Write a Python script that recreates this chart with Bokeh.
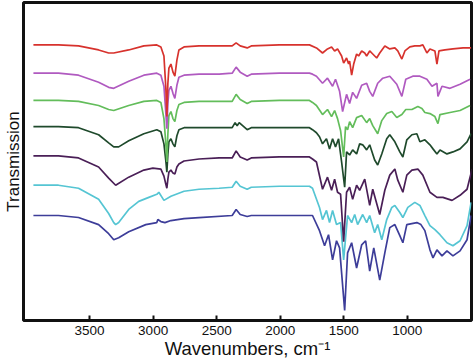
from bokeh.plotting import figure
from bokeh.models import Range1d, FixedTicker
from bokeh.embed import file_html
from bokeh.resources import INLINE

# ---- data: wavenumber (cm^-1) and transmission (arbitrary offset units) ----
red_wn = [3942, 3745, 3587, 3429, 3350, 3310, 3192, 3073, 2971, 2939, 2915, 2900, 2892, 2884, 2876, 2860, 2844, 2829, 2813, 2797, 2757, 2639, 2481, 2378, 2347, 2315, 2260, 2228, 2007, 1849, 1770,
          1715, 1667, 1628, 1596, 1572, 1549, 1517, 1501, 1478, 1462, 1454, 1438, 1422, 1399, 1383, 1359, 1335, 1320, 1296, 1272, 1241, 1217, 1177, 1138, 1098, 1075, 1043, 1019, 980, 941, 901, 878, 846, 822, 783, 767, 751, 704, 641, 561, 498]
red_t = [273, 273, 272, 268, 265, 265, 268, 272, 273, 271, 262, 230, 202, 235, 250, 254, 246, 242, 258, 268, 271, 272, 272, 272, 275, 272, 270, 272, 273, 273, 273,
         270, 265, 269, 271, 267, 269, 262, 255, 260, 254, 257, 243, 254, 264, 262, 267, 265, 262, 267, 264, 260, 265, 272, 269, 270, 267, 259, 267, 271, 272, 272, 273, 265, 269, 267, 254, 267, 268, 269, 270, 270]

magenta_wn = [3942, 3745, 3587, 3429, 3350, 3310, 3192, 3073, 2971, 2939, 2915, 2900, 2892, 2884, 2876, 2860, 2844, 2829, 2813, 2797, 2757, 2639, 2481, 2378, 2347, 2315, 2260, 2228, 2007, 1849, 1770,
              1746, 1715, 1667, 1628, 1588, 1565, 1533, 1509, 1478, 1454, 1430, 1399, 1359, 1320, 1296, 1272, 1233, 1193, 1138, 1083, 1043, 1012, 957, 901, 846, 806, 767, 759, 727, 664, 585, 506]
magenta_t = [245, 245, 243, 236, 231, 230, 237, 243, 245, 243, 232, 205, 190, 215, 228, 232, 225, 220, 233, 241, 243, 244, 244, 245, 251, 246, 242, 244, 245, 245, 245,
             244, 242, 235, 240, 232, 239, 227, 207, 224, 215, 226, 220, 233, 235, 227, 222, 235, 240, 242, 234, 222, 239, 242, 242, 239, 232, 235, 222, 232, 230, 234, 239]

green_wn = [3942, 3745, 3587, 3429, 3350, 3310, 3192, 3073, 2971, 2939, 2915, 2900, 2892, 2884, 2876, 2860, 2844, 2829, 2813, 2797, 2757, 2639, 2481, 2378, 2347, 2315, 2260, 2228, 2007, 1849, 1770,
            1746, 1715, 1667, 1628, 1596, 1572, 1549, 1525, 1501, 1486, 1470, 1454, 1430, 1399, 1359, 1320, 1296, 1272, 1233, 1201, 1162, 1122, 1083, 1043, 1012, 964, 917, 885, 862, 822, 783, 759, 743, 664, 585, 506]
green_t = [218, 218, 217, 213, 209, 208, 213, 217, 218, 216, 200, 175, 157, 185, 203, 207, 200, 197, 208, 214, 216, 217, 217, 217, 224, 219, 215, 217, 218, 218, 218,
           216, 213, 204, 209, 202, 208, 200, 188, 162, 192, 189, 197, 191, 201, 203, 196, 200, 193, 185, 198, 205, 207, 201, 204, 209, 209, 212, 210, 206, 205, 202, 195, 204, 206, 208, 213]

dkgreen_wn = [3942, 3745, 3587, 3429, 3350, 3310, 3271, 3192, 3073, 2971, 2939, 2915, 2900, 2892, 2884, 2876, 2860, 2844, 2829, 2813, 2797, 2757, 2639, 2481, 2378, 2355, 2339, 2323, 2260, 2228, 2007, 1849, 1770,
              1746, 1715, 1691, 1667, 1636, 1612, 1588, 1565, 1541, 1517, 1493, 1478, 1454, 1430, 1399, 1375, 1351, 1320, 1296, 1257, 1233, 1201, 1162, 1138, 1098, 1059, 1035, 1004, 964, 925, 901, 862, 822, 798, 767, 743, 688, 641, 585, 530, 498]
dkgreen_t = [192, 192, 191, 184, 176, 172, 172, 178, 185, 189, 187, 175, 158, 147, 165, 177, 180, 175, 172, 183, 189, 191, 191, 191, 191, 196, 193, 196, 189, 191, 191, 191, 191,
             189, 186, 182, 175, 180, 170, 180, 172, 180, 157, 132, 167, 164, 169, 165, 175, 174, 169, 174, 159, 154, 165, 180, 184, 177, 167, 162, 179, 184, 185, 177, 179, 174, 170, 165, 169, 165, 167, 170, 177, 185]

dkpurple_wn = [3942, 3745, 3587, 3429, 3350, 3295, 3192, 3073, 3002, 2939, 2915, 2900, 2892, 2884, 2876, 2860, 2844, 2829, 2813, 2797, 2757, 2639, 2481, 2378, 2347, 2315, 2260, 2228, 2007, 1849, 1770,
               1746, 1715, 1667, 1628, 1596, 1572, 1549, 1525, 1501, 1478, 1454, 1430, 1399, 1375, 1335, 1296, 1272, 1217, 1177, 1138, 1098, 1075, 1035, 1004, 964, 917, 878, 822, 767, 720, 648, 585, 530, 490]
dkpurple_t = [163, 163, 161, 152, 141, 134, 142, 149, 151, 150, 143, 135, 131, 140, 147, 149, 146, 145, 152, 155, 158, 160, 161, 161, 168, 162, 159, 161, 162, 162, 162,
              160, 157, 130, 142, 129, 140, 127, 125, 78, 127, 132, 120, 134, 129, 140, 114, 130, 105, 129, 144, 150, 139, 127, 144, 149, 150, 144, 127, 122, 122, 119, 124, 130, 150]

cyan_wn = [3942, 3745, 3587, 3429, 3350, 3310, 3295, 3271, 3192, 3113, 3034, 2971, 2955, 2915, 2860, 2757, 2639, 2481, 2378, 2347, 2315, 2260, 2228, 2007, 1849, 1770,
           1746, 1691, 1667, 1636, 1612, 1588, 1557, 1525, 1501, 1470, 1438, 1414, 1391, 1351, 1320, 1296, 1257, 1233, 1201, 1162, 1122, 1098, 1059, 1035, 996, 941, 901, 862, 822, 783, 743, 688, 641, 585, 530, 498]
cyan_t = [134, 134, 131, 120, 106, 97, 95, 97, 110, 118, 122, 125, 127, 119, 123, 128, 130, 131, 132, 138, 133, 130, 132, 133, 133, 133,
          131, 112, 100, 109, 97, 109, 95, 97, 60, 104, 97, 105, 95, 105, 97, 104, 87, 95, 80, 100, 112, 114, 107, 102, 112, 117, 114, 104, 94, 90, 85, 77, 74, 79, 94, 117]

navy_wn = [3942, 3745, 3587, 3429, 3350, 3310, 3271, 3192, 3058, 2971, 2963, 2939, 2907, 2860, 2757, 2639, 2378, 2347, 2315, 2260, 2228, 2007, 1849, 1770,
           1746, 1691, 1651, 1620, 1588, 1557, 1533, 1493, 1470, 1438, 1399, 1359, 1328, 1296, 1264, 1217, 1177, 1138, 1098, 1059, 1035, 1004, 925, 893, 862, 822, 798, 767, 727, 688, 641, 585, 530, 498]
navy_t = [104, 104, 102, 95, 86, 80, 82, 88, 95, 97, 100, 98, 97, 99, 101, 102, 104, 110, 105, 103, 104, 104, 104, 104,
          104, 89, 74, 85, 60, 79, 72, 10, 67, 77, 52, 75, 79, 49, 72, 40, 67, 92, 95, 84, 77, 95, 97, 95, 89, 70, 62, 70, 64, 69, 64, 69, 80, 104]

x_ticks = [3500, 3000, 2500, 2000, 1500, 1000]

series = [
    (navy_wn, navy_t, "#3d3d99"),
    (cyan_wn, cyan_t, "#55c5d3"),
    (dkpurple_wn, dkpurple_t, "#4a1f57"),
    (dkgreen_wn, dkgreen_t, "#1f4a2c"),
    (green_wn, green_t, "#63bd5b"),
    (magenta_wn, magenta_t, "#b05ac0"),
    (red_wn, red_t, "#d7322d"),
]

p = figure(width=473, height=361, output_backend="svg", toolbar_location=None,
           x_range=Range1d(4020, 495), y_range=Range1d(0, 315),
           min_border_left=0, min_border_top=2, min_border_right=2, min_border_bottom=0)
p.title.visible = False

for wn, t, c in series:
    p.line(wn, t, line_color=c, line_width=1.7)

p.grid.visible = False
p.outline_line_color = "#111111"
p.outline_line_width = 3
p.background_fill_color = "white"
p.border_fill_color = "white"

xa = p.xaxis[0]
xa.ticker = FixedTicker(ticks=x_ticks)
xa.minor_tick_line_color = None
xa.major_tick_in = 5
xa.major_tick_out = 0
xa.major_tick_line_width = 2
xa.major_tick_line_color = "#111111"
xa.axis_line_color = None
xa.major_label_text_font = "Liberation Sans"
xa.major_label_text_font_size = "13.5px"
xa.major_label_text_color = "#111111"
xa.major_label_standoff = 5
xa.axis_label = "Wavenumbers, cm\u207b\u00b9"
xa.axis_label_text_font = "Liberation Sans"
xa.axis_label_text_font_size = "18.5px"
xa.axis_label_text_font_style = "normal"
xa.axis_label_text_color = "#111111"
xa.axis_label_standoff = 0

ya = p.yaxis[0]
ya.ticker = FixedTicker(ticks=[])
ya.major_tick_in = 0
ya.major_tick_out = 0
ya.minor_tick_line_color = None
ya.axis_line_color = None
ya.major_label_standoff = 0
ya.major_label_text_font_size = "0px"
ya.axis_label = "Transmission"
ya.axis_label_text_font = "Liberation Sans"
ya.axis_label_text_font_size = "17px"
ya.axis_label_text_font_style = "normal"
ya.axis_label_text_color = "#111111"
ya.axis_label_standoff = 1

open("out.html", "w").write(file_html(p, INLINE))
